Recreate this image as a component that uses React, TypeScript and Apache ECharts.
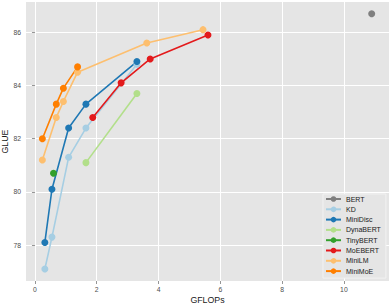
import React, { useEffect, useRef } from "react";
import * as echarts from "echarts";

const seriesNames = ["BERT", "KD", "MiniDisc", "DynaBERT", "TinyBERT", "MoEBERT", "MiniLM", "MiniMoE"];
const seriesColors = ["#7F7F7F", "#A6CEE3", "#1F78B4", "#B2DF8A", "#33A02C", "#E31A1C", "#FDBF6F", "#FF7F00"];

const bertGflops = [10.9];
const bertGlue = [86.7];
const kdGflops = [0.32, 0.55, 1.09, 1.65, 3.3];
const kdGlue = [77.1, 78.3, 81.3, 82.4, 84.8];
const miniDiscGflops = [0.32, 0.55, 1.09, 1.65, 3.3];
const miniDiscGlue = [78.1, 80.1, 82.4, 83.3, 84.9];
const dynaBertGflops = [1.65, 3.3];
const dynaBertGlue = [81.1, 83.7];
const tinyBertGflops = [0.6];
const tinyBertGlue = [80.7];
const moeBertGflops = [1.87, 2.79, 3.73, 5.6];
const moeBertGlue = [82.8, 84.1, 85.0, 85.9];
const miniLmGflops = [0.24, 0.69, 0.92, 1.38, 3.62, 5.44];
const miniLmGlue = [81.2, 82.8, 83.4, 84.5, 85.6, 86.1];
const miniMoeGflops = [0.24, 0.69, 0.92, 1.38];
const miniMoeGlue = [82.0, 83.3, 83.9, 84.7];

const xTicks = [0, 2, 4, 6, 8, 10];
const yTicks = [78, 80, 82, 84, 86];

const allX = [bertGflops, kdGflops, miniDiscGflops, dynaBertGflops, tinyBertGflops, moeBertGflops, miniLmGflops, miniMoeGflops];
const allY = [bertGlue, kdGlue, miniDiscGlue, dynaBertGlue, tinyBertGlue, moeBertGlue, miniLmGlue, miniMoeGlue];

const FONT = "'Liberation Sans', Arial, sans-serif";

export default function App() {
  const ref = useRef<HTMLDivElement>(null);
  useEffect(() => {
    if (!ref.current) return;
    const chart = echarts.init(ref.current, null, { renderer: "svg" });
    const series = seriesNames.map((name, i) => ({
      name,
      type: "line",
      data: allX[i].map((x, j) => [x, allY[i][j]]),
      symbol: "circle",
      symbolSize: 7,
      showSymbol: true,
      lineStyle: { color: seriesColors[i], width: 1.6 },
      itemStyle: { color: seriesColors[i] },
      emphasis: { disabled: true },
    }));
    chart.setOption({
      animation: false,
      textStyle: { fontFamily: FONT },
      grid: {
        left: 26,
        right: 2,
        top: 2,
        bottom: 24,
        show: true,
        backgroundColor: "#E5E5E5",
        borderWidth: 0,
        outerBoundsMode: "none",
        containLabel: false,
      },
      xAxis: {
        type: "value",
        min: -0.29,
        max: 11.46,
        name: "GFLOPs",
        nameLocation: "middle",
        nameGap: 14,
        nameMoveOverlap: false,
        nameTextStyle: { fontSize: 8.8, color: "#1A1A1A", fontFamily: FONT },
        axisLine: { show: false },
        axisTick: { show: true, length: 3, customValues: xTicks, lineStyle: { color: "#4D4D4D", width: 0.6 } },
        axisLabel: { customValues: xTicks, fontSize: 6.8, color: "#4D4D4D", margin: 5, fontFamily: FONT },
        splitLine: { show: true, lineStyle: { color: "#FFFFFF", width: 1 } },
      },
      yAxis: {
        type: "value",
        min: 76.65,
        max: 87.14,
        name: "GLUE",
        nameLocation: "middle",
        nameGap: 17,
        nameRotate: 90,
        nameMoveOverlap: false,
        nameTextStyle: { fontSize: 8.8, color: "#1A1A1A", fontFamily: FONT },
        axisLine: { show: false },
        axisTick: { show: true, length: 3, customValues: yTicks, lineStyle: { color: "#4D4D4D", width: 0.6 } },
        axisLabel: { customValues: yTicks, fontSize: 6.8, color: "#4D4D4D", margin: 5, fontFamily: FONT },
        splitLine: { show: true, lineStyle: { color: "#FFFFFF", width: 1 } },
      },
      legend: {
        orient: "vertical",
        left: 323,
        top: 194,
        data: seriesNames,
        itemWidth: 15,
        itemHeight: 7,
        itemGap: 2.3,
        padding: [1, 5, 3, 2],
        backgroundColor: "#E5E5E5",
        borderColor: "#F2F2F2",
        borderWidth: 1,
        textStyle: { fontSize: 7, color: "#1A1A1A", lineHeight: 8, fontFamily: FONT },
        selectedMode: false,
      },
      series,
    });
    return () => chart.dispose();
  }, []);
  return <div ref={ref} style={{ width: 391, height: 305, position: "absolute", left: 0, top: 0 }} />;
}
